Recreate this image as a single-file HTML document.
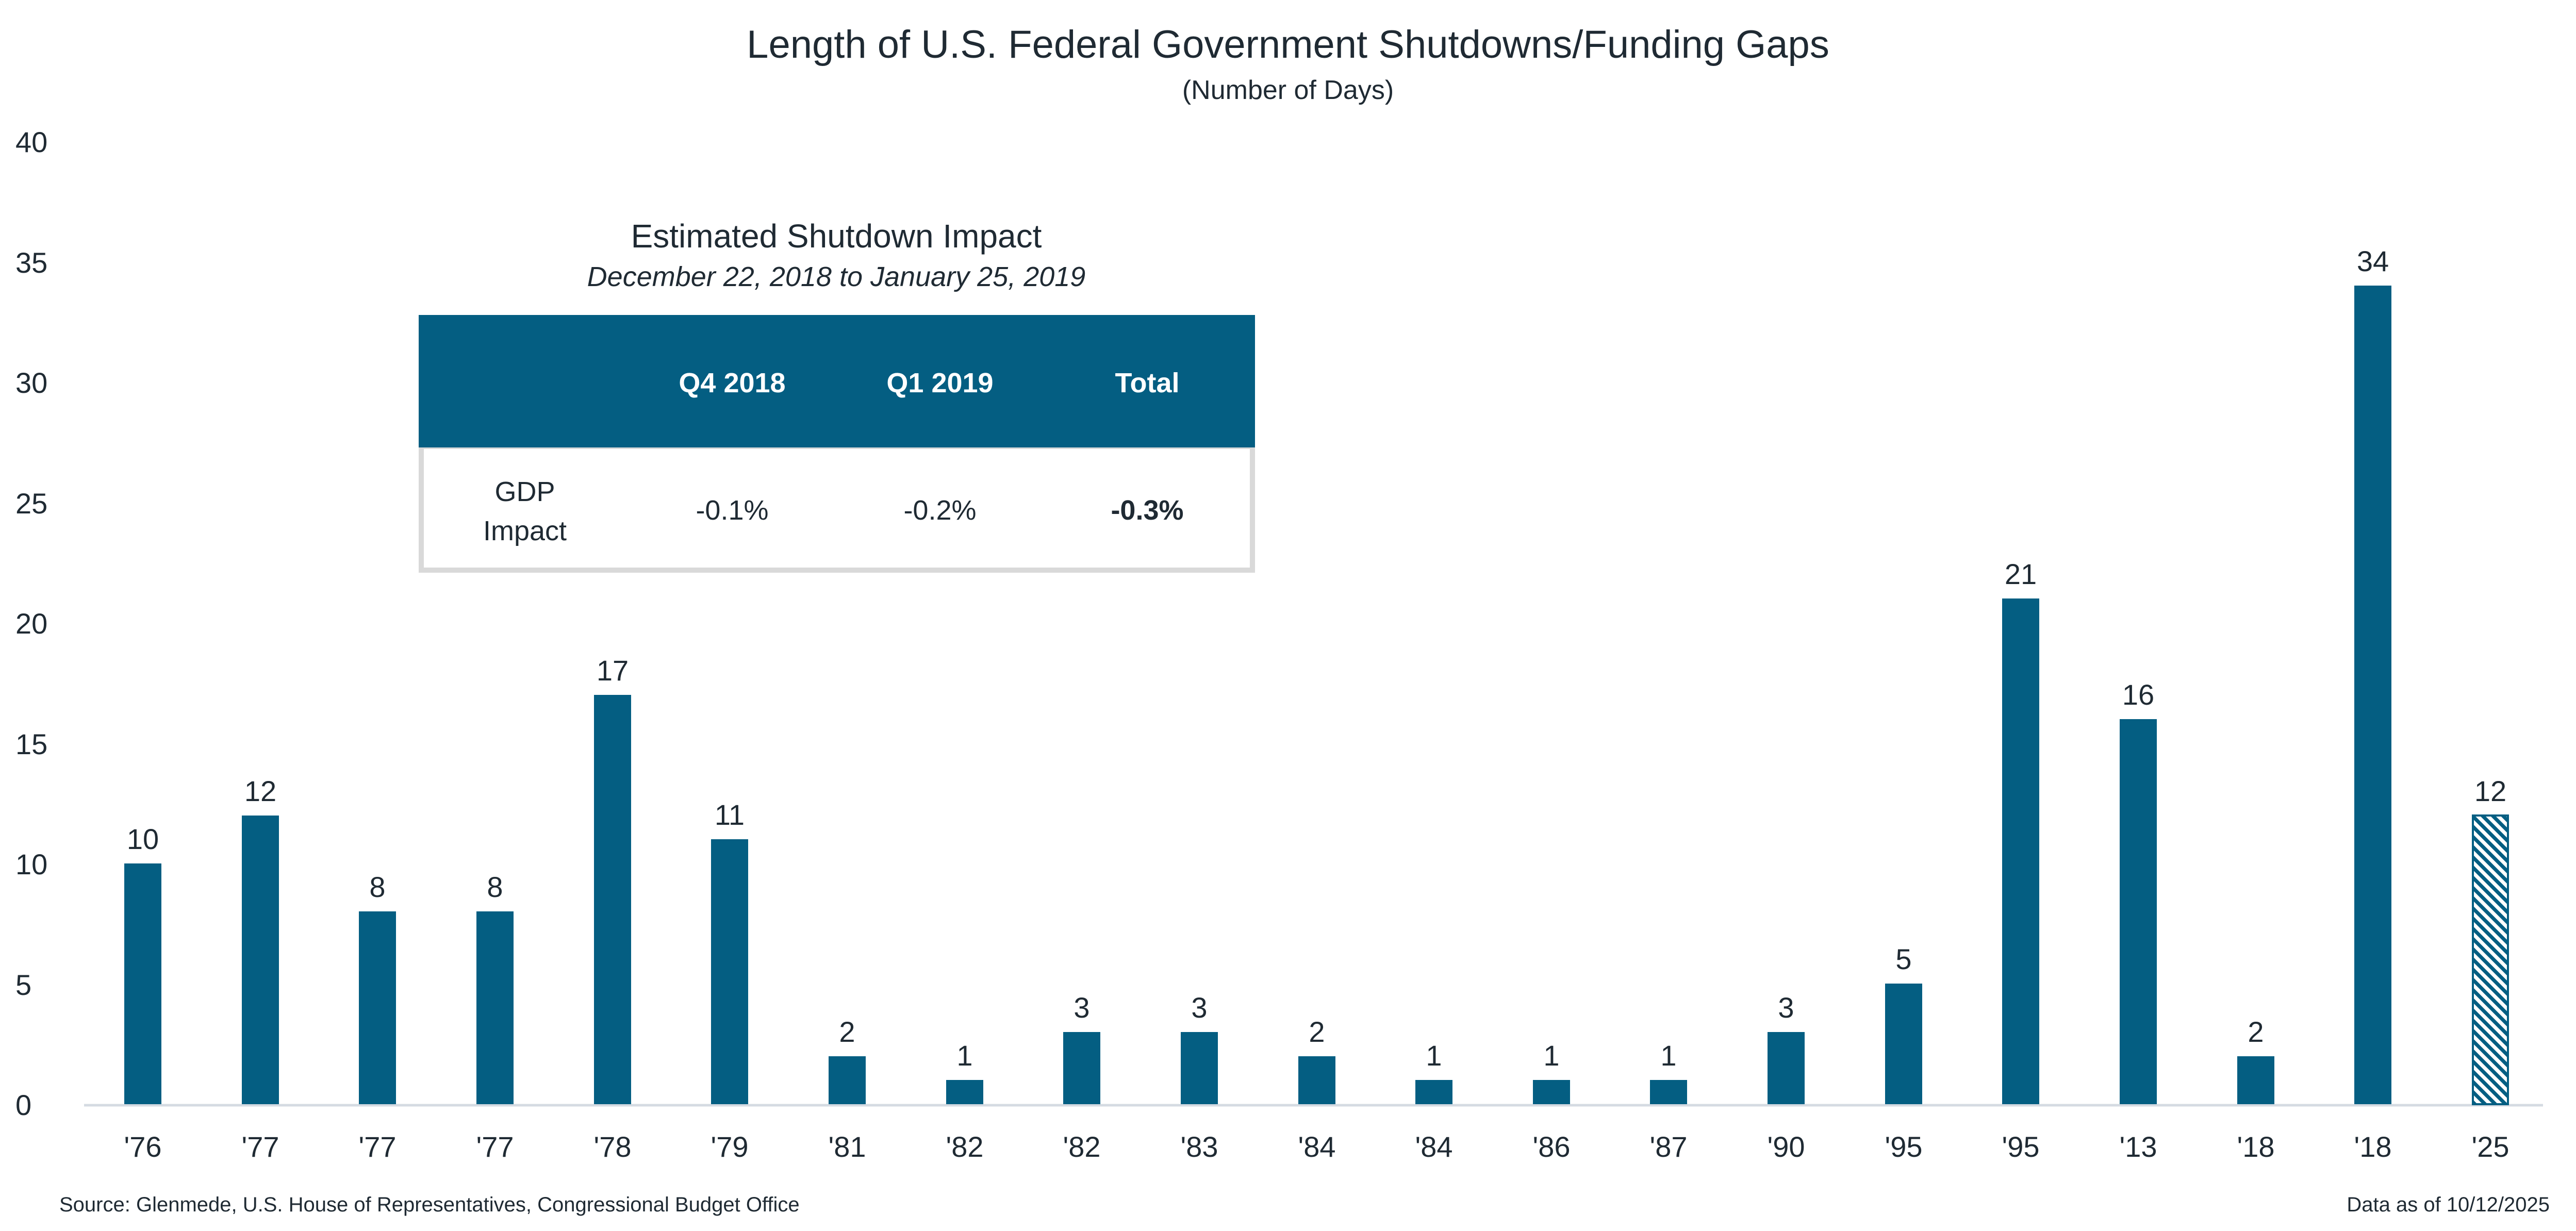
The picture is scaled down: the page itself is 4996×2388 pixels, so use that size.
<!DOCTYPE html>
<html><head><meta charset="utf-8"><style>
html,body{margin:0;padding:0;background:#fff;}
svg{display:block;font-family:"Liberation Sans",sans-serif;}
</style></head><body>
<svg width="4996" height="2388" viewBox="0 0 4996 2388" xmlns="http://www.w3.org/2000/svg">
<defs>
<pattern id="h" patternUnits="userSpaceOnUse" width="14" height="14" patternTransform="rotate(-45)">
<rect width="14" height="14" fill="#fff"/><rect width="7" height="14" fill="#045e82"/>
</pattern>
</defs>
<g fill="#1f2a33">
<text x="2498" y="112" font-size="76" text-anchor="middle">Length of U.S. Federal Government Shutdowns/Funding Gaps</text>
<text x="2498" y="192" font-size="52" text-anchor="middle">(Number of Days)</text>
<g font-size="56" text-anchor="start">
<text x="30" y="295">40</text><text x="30" y="529">35</text><text x="30" y="762">30</text>
<text x="30" y="996">25</text><text x="30" y="1229">20</text><text x="30" y="1463">15</text>
<text x="30" y="1696">10</text><text x="30" y="1930">5</text><text x="30" y="2163">0</text>
</g>
</g>
<line x1="163" y1="2144" x2="4932" y2="2144" stroke="#d5dbe2" stroke-width="5"/>
<g fill="#045e82">
<rect x="241" y="1675" width="72" height="467"/>
<rect x="469" y="1582" width="72" height="560"/>
<rect x="696" y="1768" width="72" height="374"/>
<rect x="924" y="1768" width="72" height="374"/>
<rect x="1152" y="1348" width="72" height="794"/>
<rect x="1379" y="1628" width="72" height="514"/>
<rect x="1607" y="2049" width="72" height="93"/>
<rect x="1835" y="2095" width="72" height="47"/>
<rect x="2062" y="2002" width="72" height="140"/>
<rect x="2290" y="2002" width="72" height="140"/>
<rect x="2518" y="2049" width="72" height="93"/>
<rect x="2745" y="2095" width="72" height="47"/>
<rect x="2973" y="2095" width="72" height="47"/>
<rect x="3200" y="2095" width="72" height="47"/>
<rect x="3428" y="2002" width="72" height="140"/>
<rect x="3656" y="1908" width="72" height="234"/>
<rect x="3883" y="1161" width="72" height="981"/>
<rect x="4111" y="1395" width="72" height="747"/>
<rect x="4339" y="2049" width="72" height="93"/>
<rect x="4566" y="554" width="72" height="1588"/>
</g>
<rect x="4796" y="1582" width="68" height="560" fill="url(#h)" stroke="#045e82" stroke-width="4"/>
<g fill="#1f2a33" font-size="56" text-anchor="middle">
<text x="277" y="1647">10</text>
<text x="505" y="1554">12</text>
<text x="732" y="1740">8</text>
<text x="960" y="1740">8</text>
<text x="1188" y="1320">17</text>
<text x="1415" y="1600">11</text>
<text x="1643" y="2021">2</text>
<text x="1871" y="2067">1</text>
<text x="2098" y="1974">3</text>
<text x="2326" y="1974">3</text>
<text x="2554" y="2021">2</text>
<text x="2781" y="2067">1</text>
<text x="3009" y="2067">1</text>
<text x="3236" y="2067">1</text>
<text x="3464" y="1974">3</text>
<text x="3692" y="1880">5</text>
<text x="3919" y="1133">21</text>
<text x="4147" y="1367">16</text>
<text x="4375" y="2021">2</text>
<text x="4602" y="526">34</text>
<text x="4830" y="1554">12</text>
</g>
<g fill="#1f2a33" font-size="56" text-anchor="middle">
<text x="277" y="2244">'76</text>
<text x="505" y="2244">'77</text>
<text x="732" y="2244">'77</text>
<text x="960" y="2244">'77</text>
<text x="1188" y="2244">'78</text>
<text x="1415" y="2244">'79</text>
<text x="1643" y="2244">'81</text>
<text x="1871" y="2244">'82</text>
<text x="2098" y="2244">'82</text>
<text x="2326" y="2244">'83</text>
<text x="2554" y="2244">'84</text>
<text x="2781" y="2244">'84</text>
<text x="3009" y="2244">'86</text>
<text x="3236" y="2244">'87</text>
<text x="3464" y="2244">'90</text>
<text x="3692" y="2244">'95</text>
<text x="3919" y="2244">'95</text>
<text x="4147" y="2244">'13</text>
<text x="4375" y="2244">'18</text>
<text x="4602" y="2244">'18</text>
<text x="4830" y="2244">'25</text>
</g>
<g fill="#1f2a33">
<text x="1622" y="480" font-size="64" text-anchor="middle">Estimated Shutdown Impact</text>
<text x="1622" y="555" font-size="54" font-style="italic" text-anchor="middle">December 22, 2018 to January 25, 2019</text>
</g>
<rect x="817" y="866" width="1612" height="240" fill="#fff" stroke="#d9d9d9" stroke-width="10"/>
<rect x="812" y="611" width="1622" height="257" fill="#045e82"/>
<g fill="#fff" font-size="54" font-weight="bold" text-anchor="middle">
<text x="1420" y="761">Q4 2018</text><text x="1823" y="761">Q1 2019</text><text x="2225" y="761">Total</text>
</g>
<g fill="#1f2a33" font-size="54" text-anchor="middle">
<text x="1018" y="972">GDP</text><text x="1018" y="1048">Impact</text>
<text x="1420" y="1008">-0.1%</text><text x="1823" y="1008">-0.2%</text>
<text x="2225" y="1008" font-weight="bold">-0.3%</text>
</g>
<g fill="#1f2a33" font-size="40">
<text x="115" y="2350">Source: Glenmede, U.S. House of Representatives, Congressional Budget Office</text>
<text x="4945" y="2350" text-anchor="end">Data as of 10/12/2025</text>
</g>
</svg>
</body></html>
